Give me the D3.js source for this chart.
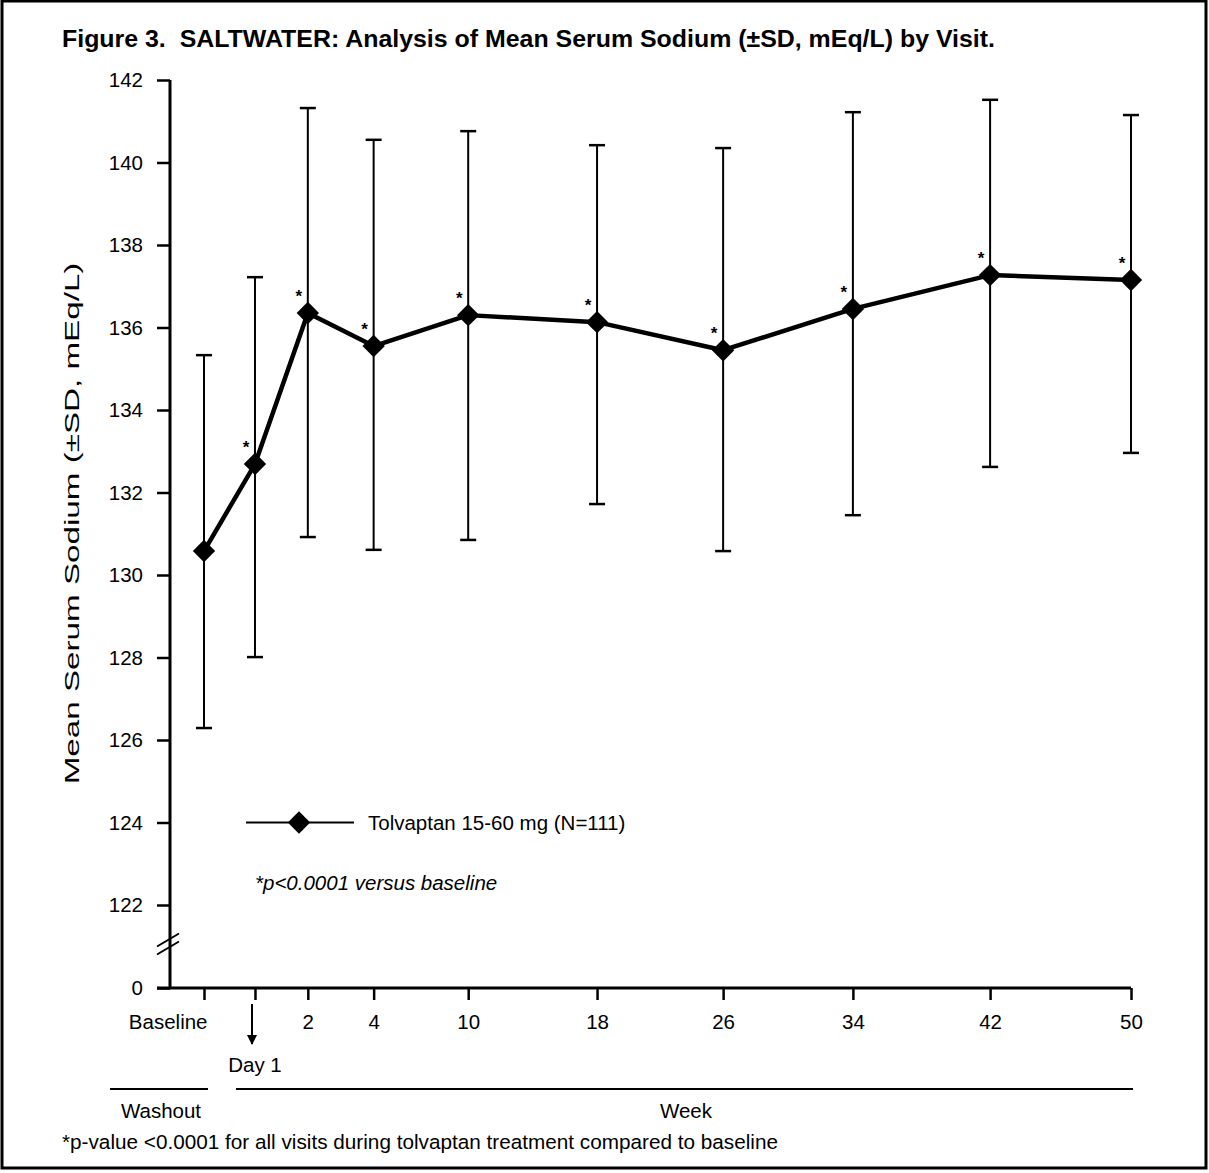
<!DOCTYPE html>
<html>
<head>
<meta charset="utf-8">
<script src="https://cdn.jsdelivr.net/npm/d3@7"></script>
<style>
  body { margin: 0; background: #fff; }
  text { font-family: "Liberation Sans", Arial, Helvetica, sans-serif; fill: #000; }
</style>
</head>
<body>
<svg id="chart" width="1209" height="1173"></svg>
<script>
// Visits along the x axis, with their hand-placed positions (0 = Baseline, 100 = Week 50).
const visitLabels = ["Baseline", "Day 1", "2", "4", "10", "18", "26", "34", "42", "50"];
const visitPos = [0, 5.5, 11.2, 18.3, 28.5, 42.4, 56.0, 70.0, 84.8, 100];

// Mean serum sodium and mean ± SD bounds (mEq/L).
const meanSodium = [130.58, 132.69, 136.35, 135.55, 136.3, 136.13, 135.45, 136.45, 137.27, 137.15];
const upperSD = [135.33, 137.22, 141.32, 140.55, 140.76, 140.42, 140.35, 141.22, 141.52, 141.15];
const lowerSD = [126.29, 128.01, 130.92, 130.61, 130.85, 131.72, 130.58, 131.45, 132.62, 132.96];
const significant = [false, true, true, true, true, true, true, true, true, true];

const yTicks = [0, 122, 124, 126, 128, 130, 132, 134, 136, 138, 140, 142];

const titleText = "Figure 3.  SALTWATER: Analysis of Mean Serum Sodium (\u00b1SD, mEq/L) by Visit.";
const yLabel = "Mean Serum Sodium (\u00b1SD, mEq/L)";
const legendLabel = "Tolvaptan 15-60 mg (N=111)";
const legendNote = "*p<0.0001 versus baseline";
const footnote = "*p-value <0.0001 for all visits during tolvaptan treatment compared to baseline";

const data = visitLabels.map((label, i) => ({
  label,
  pos: visitPos[i],
  mean: meanSodium[i],
  hi: upperSD[i],
  lo: lowerSD[i],
  sig: significant[i],
}));

const fontSize = "20.5px";
const svg = d3.select("#chart");

// Frame around the figure.
svg.append("rect")
  .attr("x", 2).attr("y", 1).attr("width", 1204).attr("height", 1167)
  .attr("fill", "none").attr("stroke", "#000").attr("stroke-width", 3);

svg.append("text")
  .attr("x", 62).attr("y", 47)
  .style("font-size", "23px").style("font-weight", "bold").style("white-space", "pre")
  .attr("textLength", 933).attr("lengthAdjust", "spacingAndGlyphs")
  .text(titleText);

// Scales: y axis is broken between 0 and 122.
const x = d3.scaleLinear().domain([0, 100]).range([204, 1131]);
const y = d3.scaleLinear().domain([0, 122, 142]).range([988, 905, 80]);
const axisX = 170;

// Y axis.
const yAxis = svg.append("g").attr("transform", `translate(${axisX},0)`)
  .call(d3.axisLeft(y).tickValues(yTicks).tickSize(13).tickPadding(14).tickFormat(d3.format("d")));
yAxis.select(".domain").remove();
yAxis.selectAll(".tick line").attr("stroke", "#000").attr("stroke-width", 2.5);
yAxis.selectAll(".tick text").style("font-size", fontSize).style("font-family", "Liberation Sans, Arial, sans-serif");
svg.append("line")
  .attr("x1", axisX).attr("x2", axisX).attr("y1", y(142)).attr("y2", y(0))
  .attr("stroke", "#000").attr("stroke-width", 3);

// Axis break marks.
[0, 8].forEach((off) => {
  svg.append("line")
    .attr("x1", axisX - 13).attr("y1", y(61) + 8 - off)
    .attr("x2", axisX + 9).attr("y2", y(61) - 5 - off)
    .attr("stroke", "#000").attr("stroke-width", 2);
});

// X axis.
const xAxis = svg.append("g").attr("transform", `translate(0,${y(0)})`)
  .call(d3.axisBottom(x).tickValues(visitPos).tickSize(12).tickPadding(14)
    .tickFormat((d, i) => (visitLabels[i] === "Day 1" ? "" : visitLabels[i])));
xAxis.select(".domain").remove();
xAxis.selectAll(".tick line").attr("stroke", "#000").attr("stroke-width", 2.5);
xAxis.selectAll(".tick text").style("font-size", fontSize).style("font-family", "Liberation Sans, Arial, sans-serif");
// The Baseline label sits to the left of its tick.
xAxis.selectAll(".tick text").filter((d, i) => i === 0)
  .attr("text-anchor", "end").attr("dx", 3);
svg.append("line")
  .attr("x1", axisX - 13).attr("x2", x(100)).attr("y1", y(0)).attr("y2", y(0))
  .attr("stroke", "#000").attr("stroke-width", 3);

// Day 1 arrow and label.
svg.append("defs").append("marker")
  .attr("id", "arrowhead").attr("viewBox", "0 0 10 10").attr("refX", 9).attr("refY", 5)
  .attr("markerWidth", 5).attr("markerHeight", 5).attr("orient", "auto")
  .append("path").attr("d", "M0,0 L10,5 L0,10 z").attr("fill", "#000");
svg.append("line")
  .attr("x1", x(visitPos[1]) - 3).attr("x2", x(visitPos[1]) - 3)
  .attr("y1", y(0) + 16).attr("y2", y(0) + 56)
  .attr("stroke", "#000").attr("stroke-width", 2).attr("marker-end", "url(#arrowhead)");
svg.append("text")
  .attr("x", x(visitPos[1])).attr("y", y(0) + 84).attr("text-anchor", "middle")
  .style("font-size", fontSize).text("Day 1");

// Washout / Week bands.
svg.append("line").attr("x1", 110).attr("x2", 208).attr("y1", 1089).attr("y2", 1089)
  .attr("stroke", "#000").attr("stroke-width", 2);
svg.append("line").attr("x1", 236).attr("x2", 1133).attr("y1", 1089).attr("y2", 1089)
  .attr("stroke", "#000").attr("stroke-width", 2);
svg.append("text").attr("x", 161).attr("y", 1118).attr("text-anchor", "middle")
  .style("font-size", fontSize).text("Washout");
svg.append("text").attr("x", 686).attr("y", 1118).attr("text-anchor", "middle")
  .style("font-size", fontSize).text("Week");
svg.append("text").attr("x", 62).attr("y", 1149)
  .style("font-size", fontSize).attr("textLength", 716).attr("lengthAdjust", "spacingAndGlyphs")
  .text(footnote);

// Y axis title, stretched along its length as in the original.
svg.append("text")
  .attr("transform", `translate(79,${y(131.25)}) rotate(-90) scale(1.62,1)`)
  .attr("text-anchor", "middle")
  .style("font-size", fontSize).text(yLabel);

// Error bars.
const bars = svg.append("g").selectAll("g").data(data).join("g");
bars.append("line")
  .attr("x1", (d) => x(d.pos)).attr("x2", (d) => x(d.pos))
  .attr("y1", (d) => y(d.hi)).attr("y2", (d) => y(d.lo))
  .attr("stroke", "#000").attr("stroke-width", 2);
bars.append("line")
  .attr("x1", (d) => x(d.pos) - 8).attr("x2", (d) => x(d.pos) + 8)
  .attr("y1", (d) => y(d.hi)).attr("y2", (d) => y(d.hi))
  .attr("stroke", "#000").attr("stroke-width", 2.5);
bars.append("line")
  .attr("x1", (d) => x(d.pos) - 8).attr("x2", (d) => x(d.pos) + 8)
  .attr("y1", (d) => y(d.lo)).attr("y2", (d) => y(d.lo))
  .attr("stroke", "#000").attr("stroke-width", 2.5);

// Mean line.
const line = d3.line().x((d) => x(d.pos)).y((d) => y(d.mean));
svg.append("path").datum(data).attr("d", line)
  .attr("fill", "none").attr("stroke", "#000").attr("stroke-width", 4.5).attr("stroke-linejoin", "round");

// Diamond markers.
const diamond = d3.symbol().type(d3.symbolDiamond2).size(320);
svg.append("g").selectAll("path").data(data).join("path")
  .attr("transform", (d) => `translate(${x(d.pos)},${y(d.mean)})`)
  .attr("d", diamond).attr("fill", "#000");

// Significance asterisks.
svg.append("g").selectAll("text").data(data.filter((d) => d.sig)).join("text")
  .attr("x", (d) => x(d.pos) - 9).attr("y", (d) => y(d.mean) - 11)
  .attr("text-anchor", "middle").style("font-size", "17px").style("font-weight", "bold")
  .text("*");

// Legend.
svg.append("line").attr("x1", 246).attr("x2", 354).attr("y1", y(124)).attr("y2", y(124))
  .attr("stroke", "#000").attr("stroke-width", 2);
svg.append("path").attr("transform", `translate(299,${y(124)})`).attr("d", diamond).attr("fill", "#000");
svg.append("text").attr("x", 368).attr("y", y(124) + 7)
  .style("font-size", fontSize).text(legendLabel);
svg.append("text").attr("x", 255).attr("y", 890)
  .style("font-size", fontSize).style("font-style", "italic").text(legendNote);
</script>
</body>
</html>
